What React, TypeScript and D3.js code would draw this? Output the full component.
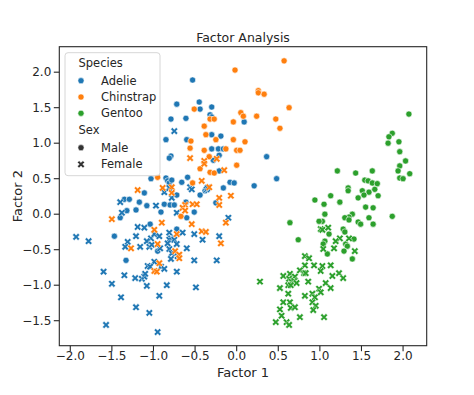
import * as d3 from 'd3';

const W = 474;
const H = 395;
const margin = {top: 46.7, right: 47.3, bottom: 49.3, left: 59.3};

// axis limits and ticks
const xDomain = [-2.132, 2.284];
const yDomain = [-1.852, 2.359];
const xTicks = [-2, -1.5, -1, -0.5, 0, 0.5, 1, 1.5, 2];
const yTicks = [-1.5, -1, -0.5, 0, 0.5, 1, 1.5, 2];

const species = ['Adelie', 'Chinstrap', 'Gentoo'];
const sexes = ['Male', 'Female'];
const palette = ['#1f77b4', '#ff7f0e', '#2ca02c'];

// [Factor 1, Factor 2]
const adelieMale = [
  [-0.53, 1.89], [-0.45, 1.58], [-0.72, 1.55], [-0.44, 1.48], [-0.61, 1.35], [-0.79, 1.34],
  [-0.30, 1.51], [-0.32, 1.40], [-0.30, 1.37], [0.09, 1.30], [-0.85, 1.05], [-0.60, 1.05],
  [-0.30, 1.12], [-0.19, 1.10], [-0.79, 0.82], [-0.81, 0.79], [-0.30, 0.92], [-0.22, 0.92],
  [-0.16, 0.92], [-0.21, 0.83], [-0.28, 0.76], [0.36, 0.81], [-0.21, 0.61], [0.48, 0.50],
  [0.21, 0.40], [-0.08, 0.45], [-0.03, 0.44], [-0.16, 0.37], [-1.03, 0.50], [-0.85, 0.51],
  [-0.83, 0.47], [-0.81, 0.44], [-1.11, 0.30], [-1.35, 0.21], [-1.29, 0.21], [-1.17, 0.17],
  [-1.08, 0.12], [-1.32, 0.05], [-1.21, 0.06], [-1.40, -0.05], [-0.91, 0.03], [-0.87, 0.14],
  [-0.80, 0.13], [-0.75, 0.13], [-0.72, 0.27], [-1.04, -0.14], [-1.47, -0.31], [-0.95, -0.52],
  [-1.33, -0.65], [-0.59, 0.52], [-0.66, 0.45], [-0.38, 0.33], [-0.44, 0.27], [-0.61, 0.17],
  [-0.25, 0.16], [-0.51, 0.03], [-0.60, -0.05], [-0.72, -0.21], [-0.78, 0.48],
];
const adelieFemale = [
  [-0.75, 1.17], [-1.40, 0.17], [-1.38, 0.02], [-0.97, 0.12], [-0.87, 0.31], [-0.81, 0.37],
  [-1.93, -0.32], [-1.78, -0.38], [-1.19, -0.18], [-1.11, -0.19], [-1.31, -0.39], [-1.21, -0.31],
  [-1.03, -0.34], [-0.99, -0.28], [-0.93, -0.31], [-1.08, -0.38], [-1.05, -0.46], [-0.81, -0.26],
  [-0.79, -0.34], [-0.81, -0.36], [-0.75, -0.36], [-0.72, -0.42], [-1.34, -0.46], [-1.16, -0.46],
  [-0.92, -0.48], [-0.81, -0.49], [-1.02, -0.43], [-0.65, -0.26], [-0.51, -0.28], [-0.60, -0.48],
  [-0.78, -0.55], [-0.79, -0.63], [-0.51, -0.65], [-0.41, -0.36], [-0.21, -0.31], [-0.10, -0.05],
  [-0.24, -0.65], [-0.83, -0.41], [-0.99, -0.67], [-1.07, -0.73], [-1.04, -0.74], [-0.91, -0.74],
  [-0.87, -0.77], [-0.72, -0.81], [-1.60, -0.81], [-1.35, -0.86], [-1.22, -0.90], [-1.14, -0.91],
  [-1.11, -0.88], [-1.10, -0.84], [-1.50, -0.98], [-1.08, -1.01], [-0.84, -1.00], [-0.49, -1.03],
  [-1.39, -1.17], [-0.93, -1.15], [-1.21, -1.31], [-1.05, -1.39], [-1.57, -1.56], [-0.95, -1.66],
  [-0.56, 0.38], [-0.54, 0.35], [-0.36, 0.35], [-0.35, 0.37], [-0.72, 0.02], [-0.78, 0.23],
  [-0.71, -0.59],
];
const chinstrapMale = [
  [0.57, 2.16], [-0.02, 2.03], [0.26, 1.74], [0.26, 1.71], [0.33, 1.69], [0.63, 1.50],
  [0.05, 1.43], [0.08, 1.38], [0.24, 1.38], [0.47, 1.34], [0.52, 1.21], [-0.04, 1.30],
  [-0.51, 1.48], [-0.32, 1.34], [-0.27, 1.34], [-0.39, 1.24], [-0.37, 1.12], [-0.25, 1.05],
  [-0.04, 1.05], [0.10, 1.02], [-0.13, 0.92], [0.00, 0.90], [0.04, 0.90], [-0.55, 1.03],
  [-0.56, 0.93], [-0.39, 0.90], [-0.33, 0.81], [0.00, 0.69], [-0.44, 0.64], [-0.32, 0.59],
  [-0.27, 0.58], [-0.53, 0.44], [-0.95, 0.52], [-0.67, -0.03],
];
const chinstrapFemale = [
  [-0.56, 0.79], [-0.39, 0.75], [-0.24, 0.78], [-0.15, 0.62], [-0.42, 0.47], [-0.33, 0.38],
  [-0.39, 0.71], [-0.21, 0.23], [-0.07, 0.26], [-0.21, 0.13], [-0.78, 0.38], [-0.53, 0.14],
  [-0.48, 0.14], [-0.62, 0.13], [-0.65, 0.09], [-0.62, 0.05], [-0.13, -0.12], [-0.54, -0.14],
  [-0.42, -0.24], [-0.37, -0.25], [-0.19, -0.41], [-0.72, -0.28], [-1.19, 0.34], [-1.50, -0.07],
  [-0.99, -0.22], [-0.90, -0.12], [-0.89, 0.37], [-0.78, 0.30], [-1.27, -0.48], [-0.74, -0.52],
  [-0.95, -0.42], [-0.69, -0.57], [-0.69, -0.62], [-0.93, -0.69], [-0.99, -0.80], [-0.96, -0.81],
];
const gentooMale = [
  [2.07, 1.41], [1.87, 1.14], [1.83, 1.09], [1.82, 1.00], [1.95, 1.02], [1.96, 0.88],
  [2.03, 0.75], [1.96, 0.68], [1.94, 0.61], [2.08, 0.57], [1.96, 0.51], [2.00, 0.50],
  [1.21, 0.61], [1.43, 0.58], [1.63, 0.61], [1.54, 0.48], [1.58, 0.47], [1.63, 0.44],
  [1.69, 0.43], [1.66, 0.35], [1.34, 0.37], [1.34, 0.33], [1.51, 0.33], [1.59, 0.31],
  [1.53, 0.27], [1.46, 0.23], [1.70, 0.26], [0.94, 0.20], [1.13, 0.26], [1.05, 0.14],
  [1.24, 0.17], [1.55, 0.10], [1.64, 0.09], [1.06, 0.00], [1.39, 0.00], [1.35, -0.04],
  [1.30, -0.05], [1.59, -0.05], [1.87, -0.03], [1.03, -0.10], [0.99, -0.10], [1.35, -0.08],
  [1.46, -0.11], [1.49, -0.14], [1.64, -0.14], [0.64, -0.12], [0.74, -0.36], [1.28, -0.21],
  [1.30, -0.25], [1.11, -0.28], [1.06, -0.38], [1.04, -0.42], [1.31, -0.42], [1.33, -0.45],
  [1.41, -0.35], [1.09, -0.56], [1.29, -0.52], [1.39, -0.63],
];
const gentooFemale = [
  [1.01, -0.21], [1.03, -0.22], [1.10, -0.19], [1.24, -0.34], [1.19, -0.38], [1.35, -0.34],
  [1.17, -0.48], [1.04, -0.49], [1.42, -0.52], [0.82, -0.59], [0.87, -0.62], [0.93, -0.72],
  [0.82, -0.72], [1.03, -0.73], [1.01, -0.80], [1.13, -0.72], [0.76, -0.79], [0.81, -0.83],
  [0.83, -0.83], [0.56, -0.87], [0.64, -0.84], [0.70, -0.88], [0.63, -0.91], [0.66, -0.95],
  [0.69, -0.94], [0.72, -0.97], [0.62, -1.00], [0.65, -1.00], [1.23, -0.83], [1.28, -0.90],
  [1.15, -0.87], [0.28, -0.95], [0.86, -0.95], [1.07, -0.97], [0.52, -1.04], [0.99, -1.05],
  [1.01, -1.10], [1.13, -1.04], [0.62, -1.12], [0.82, -1.15], [0.91, -1.12], [0.94, -1.17],
  [0.91, -1.24], [0.56, -1.24], [0.64, -1.24], [0.95, -1.29], [0.65, -1.32], [0.70, -1.31],
  [0.52, -1.34], [0.92, -1.35], [0.54, -1.43], [0.76, -1.45], [1.05, -1.45], [0.47, -1.52],
  [0.60, -1.52], [0.63, -1.56],
];

const groups = [
  [adelieMale, adelieFemale],
  [chinstrapMale, chinstrapFemale],
  [gentooMale, gentooFemale],
];

// filled "X" marker like matplotlib's 'X'
const xMarker = (L: number, a: number) => {
  const pts = [[-a, -L], [a, -L], [a, -a], [L, -a], [L, a], [a, a], [a, L], [-a, L], [-a, a], [-L, a], [-L, -a], [-a, -a]];
  const s = Math.SQRT1_2;
  return 'M' + pts.map(([x, y]) => `${((x - y) * s).toFixed(2)},${((x + y) * s).toFixed(2)}`).join('L') + 'Z';
};
const X_PATH = xMarker(3.9, 1.2);
const R = 3.1;

const font = 'DejaVu Sans, sans-serif';
const ink = '#262626';

const Marker = ({sex, color, x, y}: {sex: number; color: string; x: number; y: number}) =>
  sex === 0
    ? <circle cx={x} cy={y} r={R} fill={color} stroke="#fff" strokeWidth={0.6}/>
    : <path d={X_PATH} transform={`translate(${x},${y})`} fill={color} stroke="#fff" strokeWidth={0.5}/>;

export default function App() {
  const x = d3.scaleLinear().domain(xDomain).range([margin.left, W - margin.right]);
  const y = d3.scaleLinear().domain(yDomain).range([H - margin.bottom, margin.top]);
  const fmt = d3.format('.1f');

  const rows = groups.flatMap((g, si) =>
    g.flatMap((pts, sex) => pts.map(([f1, f2]) => ({si, sex, f1, f2}))));

  const x0 = margin.left, x1 = W - margin.right;
  const y0 = margin.top, y1 = H - margin.bottom;

  // legend layout
  const lg = {x: 65, y: 52.7, w: 95, h: 123};
  const rowY = [62.7, 80.7, 97, 113.3, 130.3, 147.7, 164.3];

  return (
    <svg width={W} height={H} style={{position: 'absolute', left: 0, top: 0, background: '#fff'}}
         fontFamily={font}>
      {rows.map((d, i) => (
        <Marker key={i} sex={d.sex} color={palette[d.si]} x={x(d.f1)} y={y(d.f2)}/>
      ))}

      <rect x={x0} y={y0} width={x1 - x0} height={y1 - y0} fill="none" stroke={ink} strokeWidth={1.1}/>

      {xTicks.map(t => (
        <g key={t} transform={`translate(${x(t)},${y1})`}>
          <line y2={5.5} stroke={ink} strokeWidth={1.1}/>
          <text y={6} dy="0.71em" textAnchor="middle" fontSize={12} fill={ink}>{fmt(t)}</text>
        </g>
      ))}
      {yTicks.map(t => (
        <g key={t} transform={`translate(${x0},${y(t)})`}>
          <line x2={-5.5} stroke={ink} strokeWidth={1.1}/>
          <text x={-8} dy="0.35em" textAnchor="end" fontSize={12} fill={ink}>{fmt(t)}</text>
        </g>
      ))}

      <text x={(x0 + x1) / 2} y={42} textAnchor="middle" fontSize={12.5} fill={ink}>Factor Analysis</text>
      <text x={(x0 + x1) / 2} y={377} textAnchor="middle" fontSize={13} fill={ink}>Factor 1</text>
      <text transform={`translate(21.5,${(y0 + y1) / 2}) rotate(-90)`} textAnchor="middle" fontSize={13} fill={ink}>Factor 2</text>

      <g>
        <rect x={lg.x} y={lg.y} width={lg.w} height={lg.h} rx={3} fill="#fff" fillOpacity={0.8} stroke="#cccccc" strokeWidth={0.8}/>
        <text x={78.5} y={rowY[0]} dy="0.35em" fontSize={11.5} fill={ink}>Species</text>
        {species.map((s, i) => (
          <g key={s}>
            <circle cx={81} cy={rowY[i + 1]} r={R} fill={palette[i]} stroke="#fff" strokeWidth={0.6}/>
            <text x={101} y={rowY[i + 1]} dy="0.35em" fontSize={11.5} fill={ink}>{s}</text>
          </g>
        ))}
        <text x={78.5} y={rowY[4]} dy="0.35em" fontSize={11.5} fill={ink}>Sex</text>
        {sexes.map((s, i) => (
          <g key={s}>
            <Marker sex={i} color="#333333" x={81} y={rowY[i + 5]}/>
            <text x={101} y={rowY[i + 5]} dy="0.35em" fontSize={11.5} fill={ink}>{s}</text>
          </g>
        ))}
      </g>
    </svg>
  );
}
